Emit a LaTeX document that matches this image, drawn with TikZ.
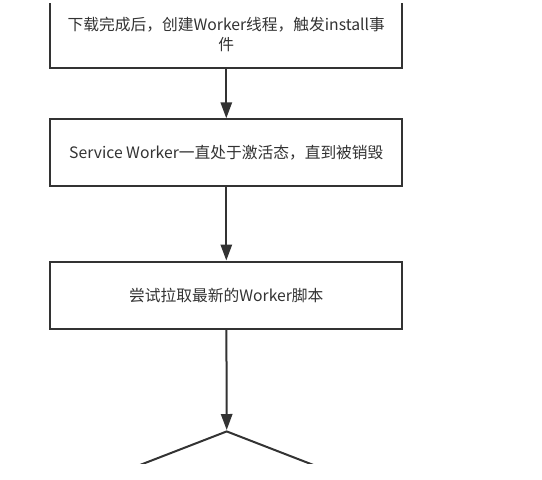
\documentclass[tikz,border=0pt]{standalone}
\usepackage{fontspec}
\setmainfont{Noto Sans CJK SC}
\usepackage{xcolor}
\usepackage{tikz}
\usetikzlibrary{shapes.geometric,arrows.meta}
\definecolor{flowgray}{HTML}{333333}

\begin{document}
\begin{tikzpicture}[x=0.75pt, y=-0.75pt]
    \tikzstyle{stepbox} = [rectangle, draw=flowgray, line width=1.5pt, fill=white, text=flowgray, inner sep=0pt, minimum width=264pt, minimum height=50.25pt, align=center, font=\fontsize{11.8}{15}\selectfont]
    \tikzstyle{decision} = [diamond, draw=flowgray, line width=1.5pt, inner sep=0pt, minimum width=300pt, minimum height=116.5pt]
    \tikzstyle{flow} = [draw=flowgray, line width=1.5pt, -{Triangle[length=12pt, width=8.5pt]}]

    \useasboundingbox (0,0) rectangle (542,479);
    \clip (0,3.5) rectangle (542,463);

    % Boxes
    \node[stepbox] (install) at (226.3,34.8) {下载完成后，创建Worker线程，触发install事\\件};
    \node[stepbox] (active) at (226.3,152.8) {Service Worker一直处于激活态，直到被销毁};
    \node[stepbox] (fetch) at (226.3,295) {尝试拉取最新的Worker脚本};

    % Decision
    \node[decision, anchor=north] (check) at (226.7,430) {};

    % Arrows
    \draw[flow] (install) -- (active);
    \draw[flow] (active) -- (fetch);
    \draw[flow] (fetch) -- (check.north);
\end{tikzpicture}
\end{document}
